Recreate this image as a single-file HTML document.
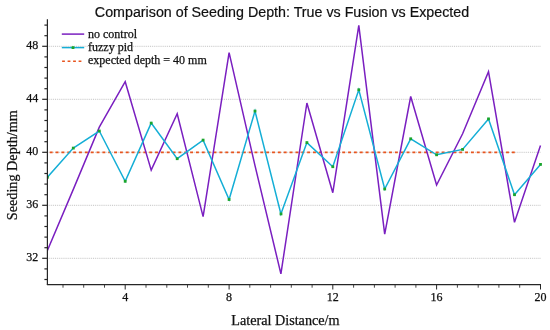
<!DOCTYPE html>
<html><head><meta charset="utf-8"><title>Comparison of Seeding Depth</title>
<style>html,body{margin:0;padding:0;background:#fff}svg{display:block}text{font-family:"Liberation Serif",serif;fill:#111;stroke:#111;stroke-width:0.25px}.t{font-family:"Liberation Sans",sans-serif;fill:#111;stroke-width:0.2px}</style></head><body>
<svg width="550" height="330" viewBox="0 0 550 330">
<rect width="550" height="330" fill="#fff"/>
<line x1="47.4" x2="540.5" y1="258.3" y2="258.3" stroke="#c4c4c4" stroke-width="1" stroke-dasharray="1 0.9"/>
<line x1="47.4" x2="540.5" y1="205.3" y2="205.3" stroke="#c4c4c4" stroke-width="1" stroke-dasharray="1 0.9"/>
<line x1="47.4" x2="540.5" y1="152.3" y2="152.3" stroke="#c4c4c4" stroke-width="1" stroke-dasharray="1 0.9"/>
<line x1="47.4" x2="540.5" y1="99.3" y2="99.3" stroke="#c4c4c4" stroke-width="1" stroke-dasharray="1 0.9"/>
<line x1="47.4" x2="540.5" y1="46.3" y2="46.3" stroke="#c4c4c4" stroke-width="1" stroke-dasharray="1 0.9"/>
<line x1="47.4" x2="515.1" y1="152.3" y2="152.3" stroke="#e8551f" stroke-width="1.7" stroke-dasharray="2.9 2.95" stroke-dashoffset="3.5"/>
<clipPath id="pc"><rect x="47.4" y="0" width="496.1" height="284.5"/></clipPath><g clip-path="url(#pc)">
<polyline points="47.4,250.5 73.3,189.4 99.3,127.1 125.2,81.7 151.2,170.1 177.2,113.7 203.1,216.6 229.1,52.7 255.0,165.6 280.9,273.8 306.9,103.0 332.8,192.7 358.8,25.4 384.7,234.2 410.7,96.5 436.6,185.0 462.6,133.8 488.5,71.6 514.5,222.3 540.5,145.4" fill="none" stroke="#7a1fc0" stroke-width="1.5" stroke-linejoin="miter"/>
<polyline points="47.4,177.3 73.3,148.1 99.3,131.0 125.2,181.3 151.2,123.1 177.2,158.7 203.1,140.1 229.1,199.5 255.0,111.1 280.9,213.9 306.9,142.6 332.8,166.7 358.8,89.8 384.7,189.0 410.7,138.8 436.6,154.8 462.6,149.4 488.5,118.9 514.5,194.7 540.5,164.4" fill="none" stroke="#14aed6" stroke-width="1.5" stroke-linejoin="miter"/>
<rect x="46.0" y="175.9" width="2.8" height="2.8" fill="#1aa52c"/>
<rect x="71.9" y="146.7" width="2.8" height="2.8" fill="#1aa52c"/>
<rect x="97.9" y="129.6" width="2.8" height="2.8" fill="#1aa52c"/>
<rect x="123.8" y="179.9" width="2.8" height="2.8" fill="#1aa52c"/>
<rect x="149.8" y="121.7" width="2.8" height="2.8" fill="#1aa52c"/>
<rect x="175.8" y="157.3" width="2.8" height="2.8" fill="#1aa52c"/>
<rect x="201.7" y="138.7" width="2.8" height="2.8" fill="#1aa52c"/>
<rect x="227.7" y="198.1" width="2.8" height="2.8" fill="#1aa52c"/>
<rect x="253.6" y="109.7" width="2.8" height="2.8" fill="#1aa52c"/>
<rect x="279.6" y="212.5" width="2.8" height="2.8" fill="#1aa52c"/>
<rect x="305.5" y="141.2" width="2.8" height="2.8" fill="#1aa52c"/>
<rect x="331.4" y="165.3" width="2.8" height="2.8" fill="#1aa52c"/>
<rect x="357.4" y="88.4" width="2.8" height="2.8" fill="#1aa52c"/>
<rect x="383.3" y="187.6" width="2.8" height="2.8" fill="#1aa52c"/>
<rect x="409.3" y="137.4" width="2.8" height="2.8" fill="#1aa52c"/>
<rect x="435.2" y="153.4" width="2.8" height="2.8" fill="#1aa52c"/>
<rect x="461.2" y="148.0" width="2.8" height="2.8" fill="#1aa52c"/>
<rect x="487.1" y="117.5" width="2.8" height="2.8" fill="#1aa52c"/>
<rect x="513.1" y="193.3" width="2.8" height="2.8" fill="#1aa52c"/>
<rect x="539.1" y="163.0" width="2.8" height="2.8" fill="#1aa52c"/>
</g>
<g stroke="#262626" stroke-width="1.2" fill="none">
<line x1="47.4" x2="47.4" y1="19.2" y2="285.1"/>
<line x1="46.9" x2="541.0" y1="284.65" y2="284.65" stroke-width="1.35"/>
<line x1="44.4" x2="47.4" y1="279.5" y2="279.5"/>
<line x1="44.4" x2="47.4" y1="268.9" y2="268.9"/>
<line x1="42.2" x2="47.4" y1="258.3" y2="258.3"/>
<line x1="44.4" x2="47.4" y1="247.7" y2="247.7"/>
<line x1="44.4" x2="47.4" y1="237.1" y2="237.1"/>
<line x1="44.4" x2="47.4" y1="226.5" y2="226.5"/>
<line x1="44.4" x2="47.4" y1="215.9" y2="215.9"/>
<line x1="42.2" x2="47.4" y1="205.3" y2="205.3"/>
<line x1="44.4" x2="47.4" y1="194.7" y2="194.7"/>
<line x1="44.4" x2="47.4" y1="184.1" y2="184.1"/>
<line x1="44.4" x2="47.4" y1="173.5" y2="173.5"/>
<line x1="44.4" x2="47.4" y1="162.9" y2="162.9"/>
<line x1="42.2" x2="47.4" y1="152.3" y2="152.3"/>
<line x1="44.4" x2="47.4" y1="141.7" y2="141.7"/>
<line x1="44.4" x2="47.4" y1="131.1" y2="131.1"/>
<line x1="44.4" x2="47.4" y1="120.5" y2="120.5"/>
<line x1="44.4" x2="47.4" y1="109.9" y2="109.9"/>
<line x1="42.2" x2="47.4" y1="99.3" y2="99.3"/>
<line x1="44.4" x2="47.4" y1="88.7" y2="88.7"/>
<line x1="44.4" x2="47.4" y1="78.1" y2="78.1"/>
<line x1="44.4" x2="47.4" y1="67.5" y2="67.5"/>
<line x1="44.4" x2="47.4" y1="56.9" y2="56.9"/>
<line x1="42.2" x2="47.4" y1="46.3" y2="46.3"/>
<line x1="44.4" x2="47.4" y1="35.7" y2="35.7"/>
<line x1="44.4" x2="47.4" y1="25.1" y2="25.1"/>
<line x1="63.0" x2="63.0" y1="284.5" y2="287.7" stroke-width="0.85"/>
<line x1="83.7" x2="83.7" y1="284.5" y2="287.7" stroke-width="0.85"/>
<line x1="104.5" x2="104.5" y1="284.5" y2="287.7" stroke-width="0.85"/>
<line x1="125.2" x2="125.2" y1="284.5" y2="289.5" stroke-width="1.0"/>
<line x1="146.0" x2="146.0" y1="284.5" y2="287.7" stroke-width="0.85"/>
<line x1="166.8" x2="166.8" y1="284.5" y2="287.7" stroke-width="0.85"/>
<line x1="187.5" x2="187.5" y1="284.5" y2="287.7" stroke-width="0.85"/>
<line x1="208.3" x2="208.3" y1="284.5" y2="287.7" stroke-width="0.85"/>
<line x1="229.1" x2="229.1" y1="284.5" y2="289.5" stroke-width="1.0"/>
<line x1="249.8" x2="249.8" y1="284.5" y2="287.7" stroke-width="0.85"/>
<line x1="270.6" x2="270.6" y1="284.5" y2="287.7" stroke-width="0.85"/>
<line x1="291.3" x2="291.3" y1="284.5" y2="287.7" stroke-width="0.85"/>
<line x1="312.1" x2="312.1" y1="284.5" y2="287.7" stroke-width="0.85"/>
<line x1="332.8" x2="332.8" y1="284.5" y2="289.5" stroke-width="1.0"/>
<line x1="353.6" x2="353.6" y1="284.5" y2="287.7" stroke-width="0.85"/>
<line x1="374.4" x2="374.4" y1="284.5" y2="287.7" stroke-width="0.85"/>
<line x1="395.1" x2="395.1" y1="284.5" y2="287.7" stroke-width="0.85"/>
<line x1="415.9" x2="415.9" y1="284.5" y2="287.7" stroke-width="0.85"/>
<line x1="436.6" x2="436.6" y1="284.5" y2="289.5" stroke-width="1.0"/>
<line x1="457.4" x2="457.4" y1="284.5" y2="287.7" stroke-width="0.85"/>
<line x1="478.2" x2="478.2" y1="284.5" y2="287.7" stroke-width="0.85"/>
<line x1="498.9" x2="498.9" y1="284.5" y2="287.7" stroke-width="0.85"/>
<line x1="519.7" x2="519.7" y1="284.5" y2="287.7" stroke-width="0.85"/>
<line x1="540.5" x2="540.5" y1="284.5" y2="289.5" stroke-width="1.0"/>
</g>
<text x="38.3" y="261.4" font-size="12" text-anchor="end">32</text>
<text x="38.3" y="208.4" font-size="12" text-anchor="end">36</text>
<text x="38.3" y="155.4" font-size="12" text-anchor="end">40</text>
<text x="38.3" y="102.4" font-size="12" text-anchor="end">44</text>
<text x="38.3" y="49.4" font-size="12" text-anchor="end">48</text>
<text x="125.2" y="301.4" font-size="12" text-anchor="middle">4</text>
<text x="229.1" y="301.4" font-size="12" text-anchor="middle">8</text>
<text x="332.8" y="301.4" font-size="12" text-anchor="middle">12</text>
<text x="436.6" y="301.4" font-size="12" text-anchor="middle">16</text>
<text x="540.5" y="301.4" font-size="12" text-anchor="middle">20</text>
<text x="285.4" y="324.5" font-size="14.2" text-anchor="middle">Lateral Distance/m</text>
<text transform="translate(17.3,165.2) rotate(-90)" font-size="14.2" text-anchor="middle">Seeding Depth/mm</text>
<text class="t" x="282.0" y="17.3" font-size="14.28" text-anchor="middle">Comparison of Seeding Depth: True vs Fusion vs Expected</text>
<line x1="61.8" x2="84.2" y1="34.1" y2="34.1" stroke="#7a1fc0" stroke-width="1.5"/>
<line x1="61.8" x2="84.2" y1="47.6" y2="47.6" stroke="#14aed6" stroke-width="1.5"/>
<rect x="71.6" y="46.2" width="2.8" height="2.8" fill="#1aa52c"/>
<line x1="62.1" x2="82" y1="61.2" y2="61.2" stroke="#e8551f" stroke-width="1.6" stroke-dasharray="2.8 2.7"/>
<text x="88" y="38.4" font-size="12">no control</text>
<text x="88" y="51.1" font-size="12">fuzzy pid</text>
<text x="88" y="64.3" font-size="12">expected depth = 40 mm</text>
</svg></body></html>
